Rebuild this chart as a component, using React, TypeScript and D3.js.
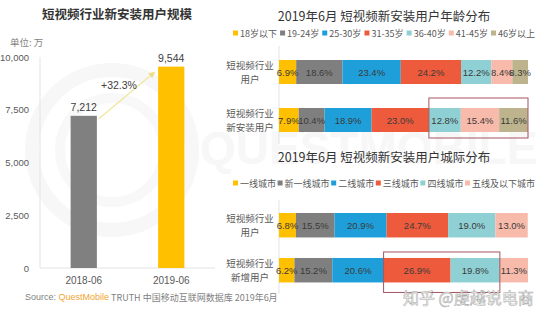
import React, { useEffect, useRef } from 'react';
import * as d3 from 'd3';

// new installs of short-video apps (unit: 10k users)
const years = ['2018-06', '2019-06'];
const newInstalls = [7212, 9544];
const growthLabel = '+32.3%';
const installTicks = [0, 2500, 5000, 7500, 10000];

// age distribution, June 2019 (%)
const ageGroups = ['18岁以下', '19-24岁', '25-30岁', '31-35岁', '36-40岁', '41-45岁', '46岁以上'];
const ageRowLabels = [['短视频行业', '用户'], ['短视频行业', '新安装用户']];
const ageIndustry = [6.9, 18.6, 23.4, 24.2, 12.2, 8.4, 8.3];
const ageNewInstall = [7.9, 10.4, 18.9, 23.0, 12.8, 15.4, 11.6];
const ageHighlight = [4, 6];

// city tier distribution, June 2019 (%)
const cityTiers = ['一线城市', '新一线城市', '二线城市', '三线城市', '四线城市', '五线及以下城市'];
const cityRowLabels = [['短视频行业', '用户'], ['短视频行业', '新增用户']];
const cityIndustry = [6.8, 15.5, 20.9, 24.7, 19.0, 13.0];
const cityNewInstall = [6.2, 15.2, 20.6, 26.9, 19.8, 11.3];
const cityHighlight = [3, 4];

const segmentColors = ['#FFC000', '#7F7F7F', '#1F9FD9', '#EE5B3C', '#8FD0D5', '#F8BAAB', '#BDB48E'];

const FONT = '"Liberation Sans", "Noto Sans CJK SC", sans-serif';
const CJK = '"Noto Sans CJK SC", "Liberation Sans", sans-serif';

type StackOpts = {
  title: string;
  titleY: number;
  legend: string[];
  legendY: number;
  rows: number[][];
  rowLabels: string[][];
  rowRange: [number, number];
  paddingInner: number;
  highlight: number[];
  boxPad: [number, number];
};

const App = () => {
  const svgRef = useRef<SVGSVGElement>(null);

  useEffect(() => {
    const svg = d3.select(svgRef.current);
    svg.selectAll('*').remove();

    // very faint brand mark behind everything
    const wm = svg.append('g').attr('opacity', 0.3);
    wm.append('circle')
      .attr('cx', 112).attr('cy', 150).attr('r', 80)
      .attr('fill', 'none').attr('stroke', '#e6e6e6').attr('stroke-width', 14);
    wm.append('circle')
      .attr('cx', 112).attr('cy', 150).attr('r', 52)
      .attr('fill', 'none').attr('stroke', '#ebebeb').attr('stroke-width', 10);
    wm.append('text')
      .attr('x', 200).attr('y', 164)
      .attr('font-family', FONT).attr('font-size', 46).attr('font-weight', 700)
      .attr('fill', '#e6e6e6')
      .text('QUESTMOBILE');

    // ---- left: install volume bars ----
    const left = svg.append('g');
    left.append('text')
      .attr('x', 117).attr('y', 19)
      .attr('text-anchor', 'middle')
      .attr('font-family', CJK).attr('font-size', 12.5).attr('font-weight', 700)
      .attr('fill', '#333')
      .text('短视频行业新安装用户规模');
    left.append('text')
      .attr('x', 10).attr('y', 42)
      .attr('dominant-baseline', 'central')
      .attr('font-family', CJK).attr('font-size', 9.5)
      .attr('fill', '#7f7f7f')
      .text('单位: 万');

    const y = d3.scaleLinear().domain([0, 10000]).range([268, 57]);
    const x = d3.scaleBand<string>().domain(years).range([40, 215]).paddingInner(0.7).paddingOuter(0.35);

    left.selectAll('.ytick')
      .data(installTicks)
      .join('text')
      .attr('class', 'ytick')
      .attr('x', 29).attr('y', d => y(d))
      .attr('text-anchor', 'end').attr('dominant-baseline', 'central')
      .attr('font-family', FONT).attr('font-size', 9.5).attr('fill', '#595959')
      .text(d => d3.format(',')(d));

    left.append('line')
      .attr('x1', 40).attr('x2', 40).attr('y1', 57).attr('y2', 268)
      .attr('stroke', '#e3e3e3');
    left.append('line')
      .attr('x1', 40).attr('x2', 215).attr('y1', 268).attr('y2', 268)
      .attr('stroke', '#e3e3e3');

    const barColors = ['#808080', '#FFC000'];
    left.selectAll('.bar')
      .data(newInstalls)
      .join('rect')
      .attr('class', 'bar')
      .attr('x', (_, i) => x(years[i])!)
      .attr('y', d => y(d))
      .attr('width', x.bandwidth())
      .attr('height', d => y(0) - y(d))
      .attr('fill', (_, i) => barColors[i]);

    left.selectAll('.val')
      .data(newInstalls)
      .join('text')
      .attr('class', 'val')
      .attr('x', (_, i) => x(years[i])! + x.bandwidth() / 2)
      .attr('y', d => y(d) - 5)
      .attr('text-anchor', 'middle')
      .attr('font-family', FONT).attr('font-size', 10.5).attr('fill', '#404040')
      .text(d => d3.format(',')(d));

    left.selectAll('.xlab')
      .data(years)
      .join('text')
      .attr('class', 'xlab')
      .attr('x', d => x(d)! + x.bandwidth() / 2)
      .attr('y', 280)
      .attr('text-anchor', 'middle').attr('dominant-baseline', 'central')
      .attr('font-family', FONT).attr('font-size', 10).attr('fill', '#595959')
      .text(d => d);

    // growth arrow between the two bars
    const defs = svg.append('defs');
    defs.append('marker')
      .attr('id', 'arrowHead')
      .attr('viewBox', '0 0 10 10')
      .attr('refX', 8).attr('refY', 5)
      .attr('markerWidth', 5).attr('markerHeight', 5)
      .attr('orient', 'auto')
      .append('path')
      .attr('d', 'M0,0L10,5L0,10z')
      .attr('fill', '#EEDD80');
    const ax1 = x(years[0])! + x.bandwidth() + 2;
    const ay1 = y(newInstalls[0]) + 3;
    const ax2 = x(years[1])! - 4;
    const ay2 = y(newInstalls[1]) + 6;
    left.append('line')
      .attr('x1', ax1).attr('y1', ay1).attr('x2', ax2).attr('y2', ay2)
      .attr('stroke', '#F2E79E').attr('stroke-width', 1.3)
      .attr('marker-end', 'url(#arrowHead)');
    left.append('text')
      .attr('x', 119).attr('y', 85)
      .attr('text-anchor', 'middle').attr('dominant-baseline', 'central')
      .attr('font-family', FONT).attr('font-size', 10.5).attr('fill', '#404040')
      .text(growthLabel);

    // ---- right: 100% stacked rows ----
    const xs = d3.scaleLinear().domain([0, 100]).range([279, 528]).clamp(true);

    const drawStack = (o: StackOpts) => {
      const g = svg.append('g');
      g.append('text')
        .attr('x', 384).attr('y', o.titleY)
        .attr('text-anchor', 'middle').attr('dominant-baseline', 'central')
        .attr('font-family', CJK).attr('font-size', 12.5).attr('fill', '#333')
        .text(o.title);

      // legend, spread evenly between 233 and 535
      const lg = g.append('g');
      const items = lg.selectAll('g')
        .data(o.legend)
        .join('g');
      items.append('rect')
        .attr('width', 5).attr('height', 5)
        .attr('y', o.legendY - 2.5)
        .attr('fill', (_, i) => segmentColors[i]);
      const labels = items.append('text')
        .attr('x', 7).attr('y', o.legendY)
        .attr('dominant-baseline', 'central')
        .attr('font-family', CJK).attr('font-size', 9).attr('fill', '#595959')
        .text(d => d);
      const widths: number[] = [];
      labels.each(function () { widths.push(7 + (this as SVGTextElement).getComputedTextLength()); });
      const gap = (535 - 233 - d3.sum(widths)) / (o.legend.length - 1);
      let cx = 233;
      items.attr('transform', (_, i) => {
        const t = `translate(${cx},0)`;
        cx += widths[i] + gap;
        return t;
      });

      const rowY = d3.scaleBand<number>()
        .domain(d3.range(o.rows.length))
        .range(o.rowRange)
        .paddingInner(o.paddingInner).paddingOuter(0.25);

      g.append('line')
        .attr('x1', 279).attr('x2', 279)
        .attr('y1', o.rowRange[0] - 2).attr('y2', o.rowRange[1])
        .attr('stroke', '#e3e3e3');

      o.rows.forEach((vals, r) => {
        const ends = Array.from(d3.cumsum(vals));
        const starts = [0, ...ends.slice(0, -1)];
        const y0 = rowY(r)!;
        const bh = rowY.bandwidth();
        const row = g.append('g');
        row.selectAll('rect')
          .data(vals)
          .join('rect')
          .attr('x', (_, i) => xs(starts[i]))
          .attr('y', y0)
          .attr('width', (_, i) => xs(ends[i]) - xs(starts[i]))
          .attr('height', bh)
          .attr('fill', (_, i) => segmentColors[i]);
        row.selectAll('text.seg')
          .data(vals)
          .join('text')
          .attr('class', 'seg')
          .attr('x', (_, i) => (xs(starts[i]) + xs(ends[i])) / 2)
          .attr('y', y0 + bh / 2)
          .attr('text-anchor', 'middle').attr('dominant-baseline', 'central')
          .attr('font-family', FONT).attr('font-size', 9.5).attr('fill', '#3a3a3a')
          .text(d => d.toFixed(1) + '%');

        const lines = o.rowLabels[r];
        row.selectAll('text.rl')
          .data(lines)
          .join('text')
          .attr('class', 'rl')
          .attr('x', 250)
          .attr('y', (_, i) => y0 + bh / 2 + (i - (lines.length - 1) / 2) * 14.5)
          .attr('text-anchor', 'middle').attr('dominant-baseline', 'central')
          .attr('font-family', CJK).attr('font-size', 9.5).attr('fill', '#595959')
          .text(d => d);

        if (r === o.rows.length - 1) {
          const [a, b] = o.highlight;
          g.append('rect')
            .attr('x', xs(starts[a]))
            .attr('y', y0 - o.boxPad[0])
            .attr('width', xs(ends[b]) - xs(starts[a]))
            .attr('height', bh + o.boxPad[0] + o.boxPad[1])
            .attr('fill', 'none')
            .attr('stroke', '#A35560').attr('stroke-width', 1);
        }
      });
    };

    drawStack({
      title: '2019年6月 短视频新安装用户年龄分布',
      titleY: 15,
      legend: ageGroups,
      legendY: 33,
      rows: [ageIndustry, ageNewInstall],
      rowLabels: ageRowLabels,
      rowRange: [48, 144],
      paddingInner: 0.5,
      highlight: ageHighlight,
      boxPad: [10, 6],
    });

    drawStack({
      title: '2019年6月 短视频新安装用户城际分布',
      titleY: 156,
      legend: cityTiers,
      legendY: 183,
      rows: [cityIndustry, cityNewInstall],
      rowLabels: cityRowLabels,
      rowRange: [201.75, 293.7],
      paddingInner: 0.456,
      highlight: cityHighlight,
      boxPad: [6, 10],
    });

    // source note
    const src = svg.append('text')
      .attr('x', 25).attr('y', 297)
      .attr('dominant-baseline', 'central')
      .attr('font-family', FONT).attr('font-size', 9).attr('fill', '#7f7f7f');
    src.append('tspan').text('Source:  ');
    src.append('tspan').attr('fill', '#F2A531').text('QuestMobile');
    src.append('tspan').attr('font-family', CJK).text(' TRUTH 中国移动互联网数据库 2019年6月');

    // platform signature
    svg.append('text')
      .attr('x', 403).attr('y', 297)
      .attr('dominant-baseline', 'central')
      .attr('font-family', CJK).attr('font-size', 16)
      .attr('fill', '#ffffff').attr('stroke', '#a8a8a8').attr('stroke-width', 0.55)
      .text('知乎 @虔越说电商');
  }, []);

  return (
    <svg
      ref={svgRef}
      width={554}
      height={320}
      style={{ position: 'absolute', left: 0, top: 0, background: '#fff' }}
    />
  );
};

export default App;
